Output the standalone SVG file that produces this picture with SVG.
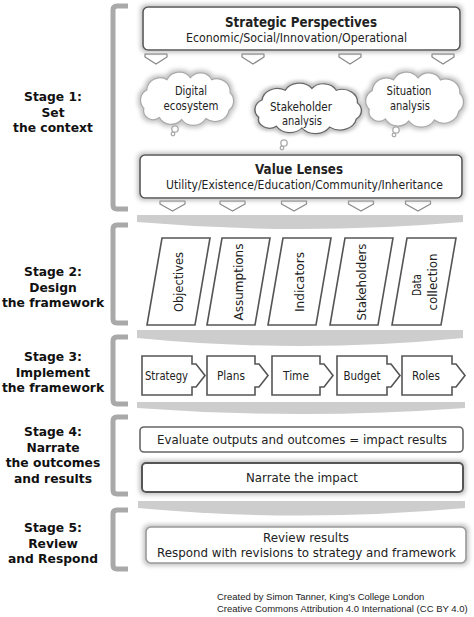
<svg xmlns="http://www.w3.org/2000/svg" width="474" height="617" viewBox="0 0 474 617">
<defs>
<filter id="glow" x="-20%" y="-40%" width="140%" height="180%">
<feMorphology in="SourceAlpha" operator="dilate" radius="2" result="d"/>
<feGaussianBlur in="d" stdDeviation="2" result="b"/>
<feFlood flood-color="#c4c4c4"/>
<feComposite in2="b" operator="in" result="g"/>
<feMerge><feMergeNode in="g"/><feMergeNode in="SourceGraphic"/></feMerge>
</filter>
<path id="cloud" d="M6,38 A12,12 0 0 1 9,19 A14,14 0 0 1 30,8 A14,14 0 0 1 54,6 A13,13 0 0 1 76,8 A14,14 0 0 1 95,22 A12,12 0 0 1 94,40 A15,15 0 0 1 70,49 A15,15 0 0 1 45,50 A14,14 0 0 1 22,48 A10,10 0 0 1 6,38 Z"/>
</defs>
<style>
.stage{font-family:"DejaVu Sans",Verdana,sans-serif;font-weight:bold;font-size:12.3px;fill:#111;text-anchor:middle}
.t{font-family:"DejaVu Sans",Verdana,sans-serif;fill:#222;text-anchor:middle}
.cr{font-family:"Liberation Sans",Arial,sans-serif;fill:#222;font-size:9.5px}
.b{font-weight:bold}
.bracket{fill:none;stroke:#a9a9a9;stroke-width:5}
.band{fill:#cdcdcd}
.tab{fill:#fff;stroke:#8a8a8a;stroke-width:1.3;stroke-linejoin:round}
.box{fill:#fff;stroke:#555;stroke-width:1.6}
.shape{fill:#fff;stroke:#555;stroke-width:1.6;stroke-linejoin:miter}
.cl{fill:#fff;stroke:#aaa;stroke-width:1.3}
</style>

<g id="brackets">
<path class="bracket" d="M128,6 H117 Q113,6 113,10 V205 Q113,209 117,209 H128"/>
<path class="bracket" d="M128,225 H117 Q113,225 113,229 V319 Q113,323 117,323 H128"/>
<path class="bracket" d="M128,337 H117 Q113,337 113,341 V400 Q113,404 117,404 H128"/>
<path class="bracket" d="M128,417 H117 Q113,417 113,421 V490 Q113,494 117,494 H128"/>
<path class="bracket" d="M128,510 H117 Q113,510 113,514 V565 Q113,569 117,569 H128"/>
</g>

<g id="stage-labels">
<text class="stage" x="53" y="101">Stage 1:</text>
<text class="stage" x="53" y="116.5">Set</text>
<text class="stage" x="53" y="132">the context</text>
<text class="stage" x="53" y="276">Stage 2:</text>
<text class="stage" x="53" y="291.5">Design</text>
<text class="stage" x="53" y="307">the framework</text>
<text class="stage" x="53" y="361">Stage 3:</text>
<text class="stage" x="53" y="376.5">Implement</text>
<text class="stage" x="53" y="392">the framework</text>
<text class="stage" x="53" y="436">Stage 4:</text>
<text class="stage" x="53" y="451.5">Narrate</text>
<text class="stage" x="53" y="467">the outcomes</text>
<text class="stage" x="53" y="482.5">and results</text>
<text class="stage" x="53" y="532">Stage 5:</text>
<text class="stage" x="53" y="547.5">Review</text>
<text class="stage" x="53" y="563">and Respond</text>
</g>

<g id="connectors">
<path class="tab" d="M145,54 H167 V57 L156,64 L145,57 Z"/>
<path class="tab" d="M242,54 H264 V57 L253,64 L242,57 Z"/>
<path class="tab" d="M339,54 H361 V57 L350,64 L339,57 Z"/>
<path class="tab" d="M432,54 H454 V57 L443,64 L432,57 Z"/>
<path class="tab" d="M160,201 H185 V204 L172.5,211 L160,204 Z"/>
<path class="tab" d="M220,201 H245 V204 L232.5,211 L220,204 Z"/>
<path class="tab" d="M281.5,201 H306.5 V204 L294,211 L281.5,204 Z"/>
<path class="tab" d="M348.5,201 H373.5 V204 L361,211 L348.5,204 Z"/>
<path class="tab" d="M405.5,201 H430.5 V204 L418,211 L405.5,204 Z"/>
<path class="band" d="M137,215 H463 V222 Q300,236 137,222 Z"/>
<path class="band" d="M137,330 H463 V338 Q300,354 137,338 Z"/>
<path class="band" d="M137,402 H465 V408 Q300,420 137,408 Z"/>
<path class="band" d="M138,501 H465 V508 Q300,523 138,508 Z"/>
</g>

<g id="strategic-perspectives">
<rect class="box" x="143" y="7" width="317" height="43" rx="5" filter="url(#glow)"/>
<text class="t b" x="301" y="27" font-size="13.5" textLength="152" lengthAdjust="spacingAndGlyphs">Strategic Perspectives</text>
<text class="t" x="296.5" y="42" font-size="11.5" textLength="221" lengthAdjust="spacingAndGlyphs">Economic/Social/Innovation/Operational</text>
</g>

<g id="cloud-digital">
<use href="#cloud" class="cl" transform="translate(138,72) scale(0.97,0.95)" filter="url(#glow)"/>
<circle cx="175" cy="129" r="3.2" class="cl"/>
<circle cx="173" cy="134" r="1.8" class="cl"/>
<text class="t" x="191" y="95" font-size="12" textLength="32" lengthAdjust="spacingAndGlyphs">Digital</text>
<text class="t" x="191" y="110" font-size="12" textLength="55" lengthAdjust="spacingAndGlyphs">ecosystem</text>
</g>

<g id="cloud-situation">
<use href="#cloud" class="cl" transform="translate(363,72) scale(1.02,0.98)" filter="url(#glow)"/>
<circle cx="396" cy="130" r="3.2" class="cl"/>
<circle cx="394" cy="135" r="1.8" class="cl"/>
<text class="t" x="409" y="95" font-size="12" textLength="45" lengthAdjust="spacingAndGlyphs">Situation</text>
<text class="t" x="410" y="110" font-size="12" textLength="40" lengthAdjust="spacingAndGlyphs">analysis</text>
</g>

<g id="cloud-stakeholder">
<use href="#cloud" class="cl" style="stroke:#666" transform="translate(252,83) scale(1.11,0.9)" filter="url(#glow)"/>
<circle cx="284" cy="143" r="3.2" class="cl"/>
<circle cx="282" cy="148" r="1.8" class="cl"/>
<text class="t" x="301" y="111" font-size="12" textLength="62" lengthAdjust="spacingAndGlyphs">Stakeholder</text>
<text class="t" x="302" y="125" font-size="12" textLength="40" lengthAdjust="spacingAndGlyphs">analysis</text>
</g>

<g id="value-lenses">
<rect class="box" x="140" y="155" width="322" height="43" rx="5" filter="url(#glow)"/>
<text class="t b" x="299" y="174" font-size="13.5" textLength="88" lengthAdjust="spacingAndGlyphs">Value Lenses</text>
<text class="t" x="304.5" y="189" font-size="11.5" textLength="277" lengthAdjust="spacingAndGlyphs">Utility/Existence/Education/Community/Inheritance</text>
</g>

<g id="objectives">
<path class="shape" d="M162,238 H210 L195,325 H147 Z"/>
<text class="t" x="182.5" y="282" font-size="12.5" textLength="60" lengthAdjust="spacingAndGlyphs" transform="rotate(-90 182.5 282)">Objectives</text>
</g>
<g id="assumptions">
<path class="shape" d="M222,238 H270 L255,325 H207 Z"/>
<text class="t" x="242.5" y="282" font-size="12.5" textLength="77" lengthAdjust="spacingAndGlyphs" transform="rotate(-90 242.5 282)">Assumptions</text>
</g>
<g id="indicators">
<path class="shape" d="M283,238 H331 L316,325 H268 Z"/>
<text class="t" x="303.5" y="282" font-size="12.5" textLength="60" lengthAdjust="spacingAndGlyphs" transform="rotate(-90 303.5 282)">Indicators</text>
</g>
<g id="stakeholders">
<path class="shape" d="M345,238 H393 L378,325 H330 Z"/>
<text class="t" x="365.5" y="282" font-size="12.5" textLength="77" lengthAdjust="spacingAndGlyphs" transform="rotate(-90 365.5 282)">Stakeholders</text>
</g>
<g id="data-collection">
<path class="shape" d="M407,238 H456 L441,325 H392 Z"/>
<text class="t" x="421" y="285" font-size="12.5" textLength="22" lengthAdjust="spacingAndGlyphs" transform="rotate(-90 421 285)">Data</text>
<text class="t" x="437" y="282" font-size="12.5" textLength="57" lengthAdjust="spacingAndGlyphs" transform="rotate(-90 437 282)">collection</text>
</g>

<g id="strategy">
<path class="shape" d="M142,356 H192 V364 H196 L205,375.5 L196,387 H192 V395 H142 Z"/>
<text class="t" x="166.5" y="380" font-size="12.5" textLength="43" lengthAdjust="spacingAndGlyphs">Strategy</text>
</g>
<g id="plans">
<path class="shape" d="M207,356 H255 V364 H259 L268,375.5 L259,387 H255 V395 H207 Z"/>
<text class="t" x="231" y="380" font-size="12.5" textLength="28" lengthAdjust="spacingAndGlyphs">Plans</text>
</g>
<g id="time">
<path class="shape" d="M272,356 H320 V364 H324 L333,375.5 L324,387 H320 V395 H272 Z"/>
<text class="t" x="296" y="380" font-size="12.5" textLength="26" lengthAdjust="spacingAndGlyphs">Time</text>
</g>
<g id="budget">
<path class="shape" d="M337,356 H387 V364 H391 L400,375.5 L391,387 H387 V395 H337 Z"/>
<text class="t" x="362" y="380" font-size="12.5" textLength="37" lengthAdjust="spacingAndGlyphs">Budget</text>
</g>
<g id="roles">
<path class="shape" d="M402,356 H452 V364 H456 L465,375.5 L456,387 H452 V395 H402 Z"/>
<text class="t" x="426" y="380" font-size="12.5" textLength="28" lengthAdjust="spacingAndGlyphs">Roles</text>
</g>

<g id="evaluate">
<rect class="box" x="140" y="427" width="323" height="25" rx="4" style="stroke:#666"/>
<text class="t" x="302" y="443.5" font-size="12.5" textLength="290" lengthAdjust="spacingAndGlyphs">Evaluate outputs and outcomes = impact results</text>
</g>
<g id="narrate">
<rect class="box" x="142" y="463" width="321" height="29" rx="4" style="stroke-width:2" filter="url(#glow)"/>
<text class="t" x="302" y="482" font-size="13" textLength="112" lengthAdjust="spacingAndGlyphs">Narrate the impact</text>
</g>
<g id="review">
<rect class="box" x="146" y="527" width="320" height="36" rx="5" style="stroke:#999" filter="url(#glow)"/>
<text class="t" x="306" y="542" font-size="13" textLength="86" lengthAdjust="spacingAndGlyphs">Review results</text>
<text class="t" x="306.5" y="557" font-size="12.3" textLength="299" lengthAdjust="spacingAndGlyphs">Respond with revisions to strategy and framework</text>
</g>

<g id="credits">
<text class="cr" x="217" y="600">Created by Simon Tanner, King’s College London</text>
<text class="cr" x="217" y="612">Creative Commons Attribution 4.0 International (CC BY 4.0)</text>
</g>
</svg>
